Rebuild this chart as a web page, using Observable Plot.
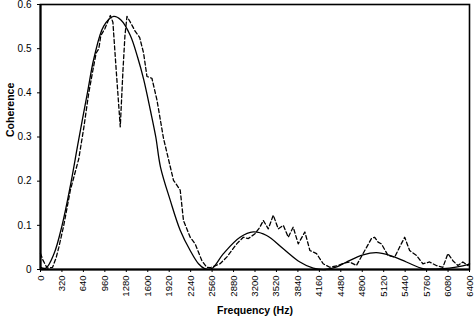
<!DOCTYPE html>
<html>
<head>
<meta charset="utf-8">
<script src="https://cdn.jsdelivr.net/npm/d3@7"></script>
<script src="https://cdn.jsdelivr.net/npm/@observablehq/plot@0.6"></script>
<style>
  html, body { margin: 0; padding: 0; background: #fff; }
  #chart { width: 474px; height: 328px; }
</style>
</head>
<body>
<div id="chart"></div>
<script>
// Model (solid) coherence
const solidFreq = [0, 80, 200, 322, 446, 565, 700, 800, 943, 1091, 1200, 1340, 1450, 1540, 1640, 1720, 1790, 1935, 2084, 2233, 2357, 2450, 2555, 2729, 2977, 3175, 3374, 3622, 3870, 4068, 4250, 4420, 4565, 4812, 5011, 5209, 5458, 5705, 5900, 6100, 6300, 6400];
const solidCoh  = [0.005, 0.003, 0.035, 0.1, 0.19, 0.29, 0.4, 0.48, 0.551, 0.573, 0.565, 0.53, 0.48, 0.43, 0.36, 0.3, 0.232, 0.157, 0.089, 0.043, 0.013, 0.002, 0.002, 0.036, 0.073, 0.085, 0.077, 0.047, 0.017, 0.003, 0.0, 0.006, 0.017, 0.033, 0.038, 0.032, 0.017, 0.002, 0.001, 0.003, 0.008, 0.012];

// Measured (dashed) coherence
const dashFreq = [0, 40, 100, 180, 230, 273, 347, 446, 570, 645, 720, 780, 830, 870, 900, 960, 1000, 1042, 1080, 1130, 1190, 1230, 1260, 1290, 1340, 1414, 1480, 1538, 1588, 1662, 1737, 1835, 1984, 2084, 2133, 2233, 2307, 2407, 2481, 2530, 2679, 2778, 2927, 3026, 3100, 3200, 3274, 3324, 3398, 3473, 3547, 3622, 3696, 3770, 3845, 3944, 4019, 4118, 4217, 4316, 4440, 4540, 4614, 4713, 4812, 4937, 4986, 5036, 5086, 5184, 5284, 5358, 5433, 5507, 5607, 5705, 5805, 5904, 6003, 6078, 6152, 6227, 6301, 6376, 6400];
const dashCoh  = [0.036, 0.02, 0.003, 0.005, 0.025, 0.05, 0.1, 0.18, 0.25, 0.32, 0.4, 0.45, 0.49, 0.5, 0.53, 0.545, 0.56, 0.575, 0.56, 0.45, 0.323, 0.45, 0.53, 0.573, 0.56, 0.539, 0.525, 0.49, 0.437, 0.433, 0.384, 0.297, 0.202, 0.18, 0.111, 0.073, 0.058, 0.02, 0.005, 0.004, 0.013, 0.028, 0.058, 0.073, 0.07, 0.081, 0.096, 0.111, 0.092, 0.123, 0.092, 0.1, 0.073, 0.096, 0.058, 0.085, 0.043, 0.036, 0.013, 0.005, 0.009, 0.015, 0.017, 0.009, 0.036, 0.07, 0.073, 0.062, 0.058, 0.032, 0.028, 0.051, 0.073, 0.043, 0.032, 0.013, 0.017, 0.009, 0.005, 0.036, 0.02, 0.009, 0.017, 0.009, 0.014];

// Tick labels
const xTicks = [0, 320, 640, 960, 1280, 1600, 1920, 2240, 2560, 2880, 3200, 3520, 3840, 4160, 4480, 4800, 5120, 5440, 5760, 6080, 6400];
const yTicks = [0, 0.1, 0.2, 0.3, 0.4, 0.5, 0.6];

const solid = solidFreq.map((f, i) => ({f, c: solidCoh[i]}));
const dashed = dashFreq.map((f, i) => ({f, c: dashCoh[i]}));

const chart = Plot.plot({
  width: 474,
  height: 328,
  marginLeft: 40,
  marginRight: 5,
  marginTop: 4,
  marginBottom: 59,
  style: {fontFamily: "Arial, 'Liberation Sans', sans-serif", fontSize: "10px", color: "#000", background: "#fff"},
  x: {domain: [0, 6400]},
  y: {domain: [0, 0.6]},
  marks: [
    Plot.axisX({ticks: xTicks, tickRotate: -90, tickSize: 3, tickPadding: 3, label: null, fontSize: 9.5,
      tickFormat: d => String(d)}),
    Plot.axisY({ticks: yTicks, tickSize: 3, tickPadding: 6, label: null, fontSize: 10,
      tickFormat: d => d === 0 ? "0" : d.toFixed(1)}),
    Plot.line(solid, {x: "f", y: "c", stroke: "#000", strokeWidth: 1.3, curve: "catmull-rom"}),
    Plot.line(dashed, {x: "f", y: "c", stroke: "#000", strokeWidth: 1.3, strokeDasharray: "4,2.5"}),
    Plot.frame({stroke: "#000", strokeWidth: 1.6}),
    Plot.ruleX([0], {stroke: "#000", strokeWidth: 2}),
    Plot.ruleY([0], {stroke: "#000", strokeWidth: 2}),
    Plot.text(["Frequency (Hz)"], {frameAnchor: "bottom", dy: 44, fontWeight: "bold", fontSize: 10.5}),
    Plot.text(["Coherence"], {frameAnchor: "left", dx: -30, rotate: -90, fontWeight: "bold", fontSize: 10.5})
  ]
});
document.getElementById("chart").appendChild(chart);
</script>
</body>
</html>
